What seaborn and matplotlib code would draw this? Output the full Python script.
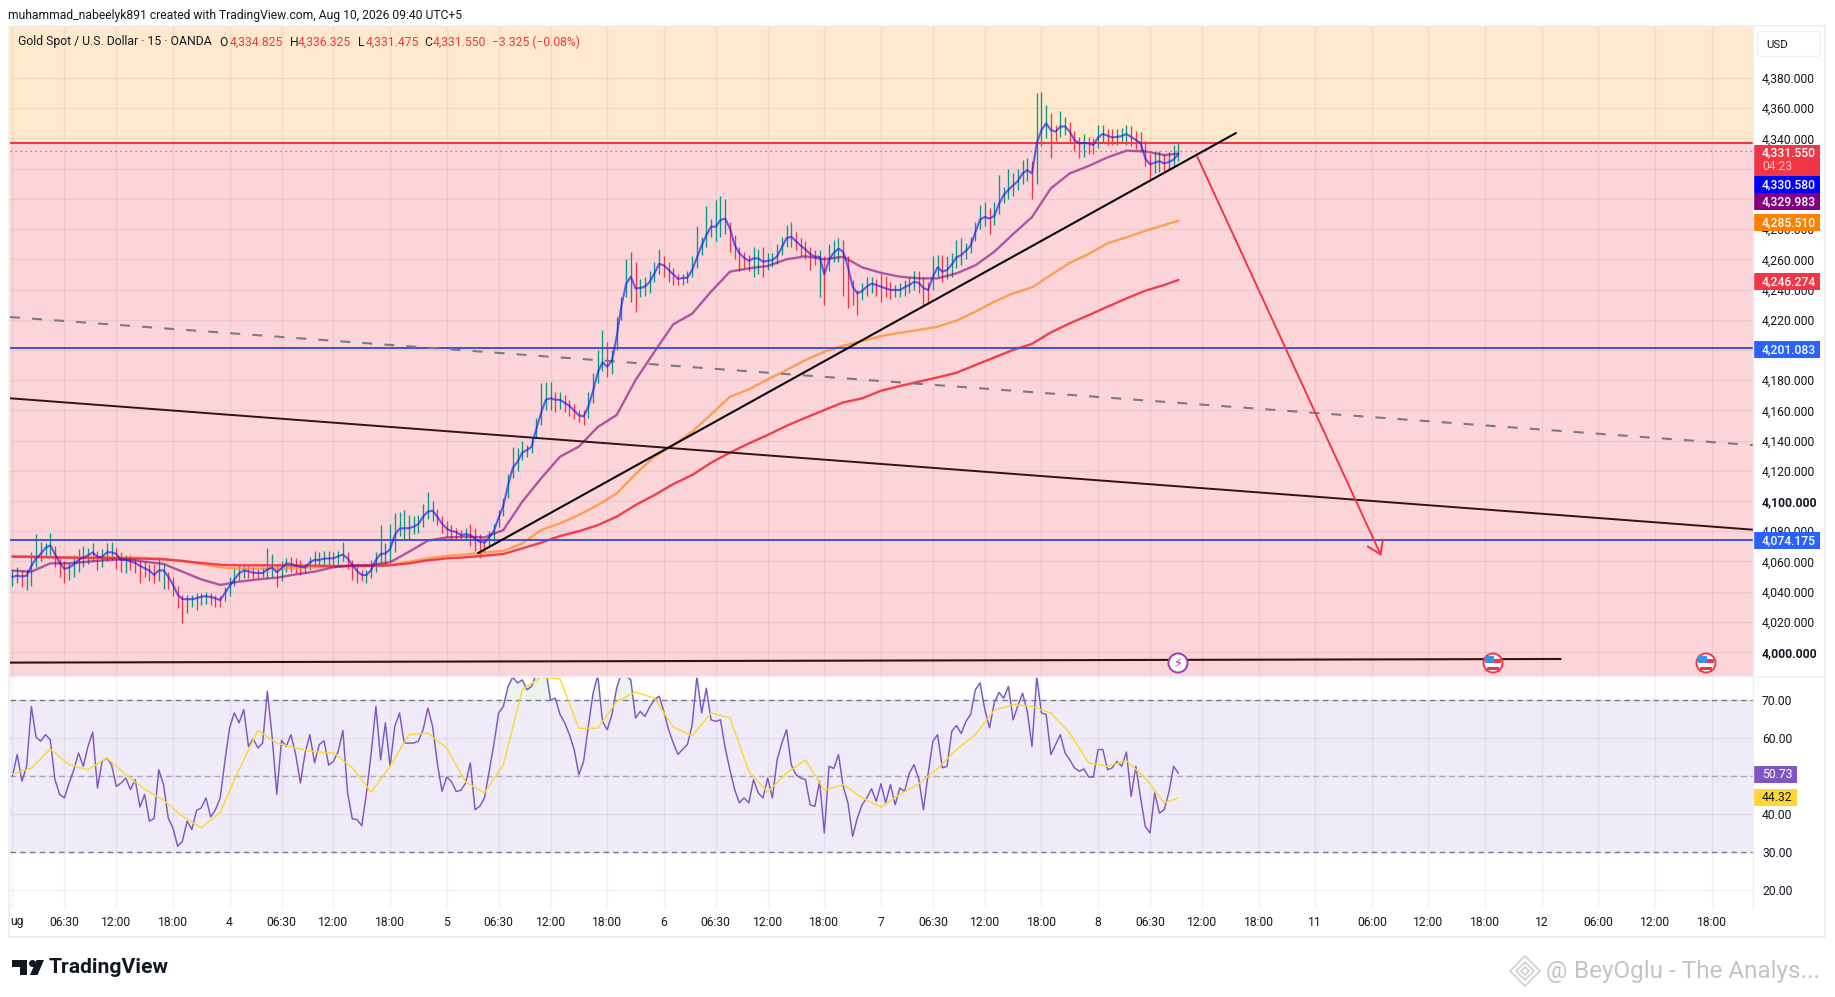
# plot.py
# Gold Spot / U.S. Dollar 15 min chart with RSI pane, TradingView look.

import numpy as np
import seaborn as sns
import matplotlib.pyplot as plt
from matplotlib.patches import Rectangle, Circle, Polygon, FancyBboxPatch

W, H = 1835, 997

# price, one entry for every second bar
bar_close = [4049.7, 4050.6, 4050, 4050.6, 4057, 4062, 4065, 4069, 4070.6, 4065,
             4059, 4055, 4056, 4058, 4061, 4062.5, 4064, 4066, 4063, 4063,
             4066, 4066, 4065, 4061, 4061, 4060, 4059, 4057, 4055.5, 4054,
             4051, 4054, 4054, 4050, 4044.6, 4038, 4035, 4035, 4035, 4035.6,
             4036.6, 4037, 4036.4, 4035.5, 4034.4, 4039, 4043.7, 4048, 4052, 4054,
             4053.4, 4052.5, 4052.3, 4052.3, 4054.7, 4056, 4052.8, 4055.4, 4058.7, 4058.3,
             4057.4, 4056.5, 4056, 4059.4, 4061, 4061, 4061.8, 4062, 4062, 4063.4,
             4064.5, 4062, 4057.6, 4053.6, 4051, 4051, 4054.3, 4061, 4065, 4065.3,
             4068, 4077.5, 4081.7, 4082, 4082, 4083, 4084.8, 4089.6, 4093, 4093.6,
             4089.6, 4085, 4081.7, 4080, 4079.5, 4077.5, 4078, 4077.5, 4075, 4073,
             4072.4, 4076, 4080.3, 4089, 4097, 4110.5, 4122, 4126, 4132, 4133.7,
             4136, 4148, 4158.5, 4167, 4168, 4167, 4167, 4165, 4163, 4159.8,
             4156.7, 4156, 4162.4, 4173, 4185, 4191.8, 4189, 4192.7, 4208.8, 4229,
             4243.6, 4248.5, 4240.8, 4241, 4242, 4245, 4250.7, 4257, 4256, 4253,
             4250, 4247, 4247.6, 4247.8, 4253, 4261, 4269, 4276, 4281.6, 4281.6,
             4286, 4287, 4280.5, 4269.5, 4264, 4261, 4259, 4260.6, 4260.6, 4258.4,
             4259, 4259.5, 4262, 4268, 4274, 4275, 4272, 4269, 4266.6, 4263.5,
             4261.7, 4261.7, 4250, 4259.5, 4264.4, 4267, 4265, 4255, 4241.9, 4237.5,
             4239, 4242, 4244, 4243, 4241.9, 4240.8, 4239.7, 4239.7, 4239.7, 4241.4,
             4243, 4245, 4244.5, 4241, 4239.7, 4248.5, 4254.7, 4251.8, 4253, 4256.6,
             4261.3, 4262.8, 4265.7, 4269, 4278, 4286.4, 4288, 4287, 4288.7, 4296.6,
             4302.6, 4306, 4309, 4311.8, 4316.9, 4319, 4316.9, 4336.8, 4345.6, 4350,
             4345.6, 4344.5, 4347.8, 4348, 4344.5, 4339, 4336.8, 4337, 4336.8, 4335.7,
             4340.7, 4343, 4341.8, 4340.7, 4341, 4341.6, 4343, 4341, 4339, 4337,
             4326.8, 4322.9, 4324, 4325, 4323.5, 4324.4, 4326, 4329.7]

bar_high = [4054, 4056, 4054, 4054, 4066, 4078, 4073, 4072, 4079, 4070,
            4063, 4060, 4059, 4064, 4068, 4070, 4069, 4072, 4067, 4068,
            4072, 4073, 4069, 4066, 4064, 4064, 4062, 4060, 4060, 4058,
            4058, 4063, 4058, 4053, 4050, 4044, 4038, 4038, 4038, 4039,
            4039, 4040, 4039, 4038, 4037, 4043, 4050, 4055, 4057, 4057,
            4057, 4056, 4055, 4056, 4069, 4065, 4058, 4060, 4062, 4063,
            4062, 4061, 4058, 4063, 4067, 4066, 4067, 4067, 4066, 4067,
            4073, 4066, 4061, 4058, 4054, 4054, 4061, 4066, 4084, 4072,
            4085, 4092, 4093, 4094, 4091, 4090, 4091, 4098, 4106, 4100,
            4095, 4090, 4087, 4084, 4082, 4081, 4082, 4085, 4082, 4078,
            4075, 4080, 4085, 4094, 4102, 4118, 4136, 4135, 4140, 4137,
            4142, 4155, 4178, 4179, 4179, 4172, 4172, 4170, 4167, 4164,
            4160, 4160, 4172, 4185, 4200, 4213, 4205, 4200, 4222, 4235,
            4260, 4265, 4258, 4247, 4248, 4252, 4258, 4267, 4262, 4258,
            4254, 4250, 4250, 4252, 4262, 4282, 4275, 4295, 4287, 4299,
            4302, 4300, 4285, 4276, 4268, 4265, 4263, 4268, 4267, 4268,
            4264, 4264, 4270, 4275, 4283, 4285, 4278, 4274, 4272, 4268,
            4266, 4266, 4262, 4270, 4273, 4274, 4273, 4262, 4246, 4240,
            4244, 4248, 4248, 4247, 4250, 4249, 4245, 4243, 4244, 4246,
            4248, 4252, 4252, 4248, 4245, 4262, 4263, 4263, 4262, 4264,
            4273, 4274, 4271, 4275, 4285, 4296, 4298, 4294, 4298, 4316,
            4308, 4320, 4317, 4320, 4326, 4327, 4325, 4370, 4371, 4362,
            4357, 4349, 4358, 4354, 4351, 4345, 4341, 4343, 4341, 4340,
            4349, 4349, 4346, 4346, 4346, 4347, 4349, 4348, 4345, 4344,
            4338, 4330, 4331, 4332, 4330, 4331, 4336, 4337]

bar_low = [4044, 4046, 4043, 4041, 4044, 4056, 4060, 4063, 4064, 4056,
           4050, 4046, 4048, 4050, 4053, 4056, 4058, 4060, 4054, 4056,
           4060, 4061, 4055, 4053, 4052, 4054, 4052, 4046, 4050, 4047,
           4046, 4047, 4042, 4042, 4037, 4029, 4019, 4026, 4030, 4028,
           4031, 4032, 4031, 4030, 4030, 4034, 4037, 4044, 4048, 4049,
           4049, 4049, 4049, 4050, 4049, 4050, 4043, 4047, 4053, 4053,
           4052, 4051, 4052, 4054, 4056, 4056, 4056, 4057, 4057, 4058,
           4060, 4055, 4048, 4046, 4047, 4046, 4049, 4053, 4059, 4058,
           4060, 4066, 4077, 4075, 4075, 4078, 4079, 4083, 4088, 4087,
           4084, 4079, 4076, 4075, 4075, 4074, 4075, 4070, 4067, 4062,
           4066, 4070, 4073, 4083, 4090, 4102, 4115, 4120, 4127, 4129,
           4132, 4142, 4150, 4160, 4160, 4159, 4161, 4159, 4156, 4154,
           4152, 4150, 4155, 4165, 4178, 4186, 4182, 4184, 4200, 4220,
           4235, 4232, 4225, 4235, 4236, 4238, 4245, 4250, 4248, 4245,
           4243, 4243, 4243, 4244, 4248, 4254, 4263, 4268, 4275, 4272,
           4275, 4277, 4265, 4260, 4252, 4254, 4252, 4248, 4250, 4248,
           4253, 4255, 4257, 4263, 4268, 4268, 4266, 4262, 4260, 4253,
           4256, 4235, 4230, 4252, 4258, 4258, 4236, 4228, 4230, 4223,
           4233, 4236, 4238, 4236, 4232, 4235, 4234, 4235, 4235, 4236,
           4238, 4240, 4238, 4229, 4231, 4240, 4248, 4245, 4247, 4248,
           4254, 4256, 4260, 4264, 4272, 4280, 4282, 4277, 4283, 4290,
           4297, 4300, 4302, 4306, 4310, 4312, 4300, 4310, 4335, 4340,
           4327, 4338, 4341, 4342, 4337, 4332, 4327, 4328, 4330, 4330,
           4334, 4337, 4336, 4336, 4336, 4337, 4336, 4335, 4333, 4331,
           4322, 4313, 4317, 4318, 4318, 4319, 4321, 4325]

# moving averages, one entry for every eighth bar plus the last one
ema_purple = [4053.9, 4053.2, 4058.7, 4058.7, 4059.8, 4060.9, 4061.4, 4059.8, 4058.3, 4053.2,
              4048.1, 4044.4, 4046.6, 4048.1, 4049.2, 4051.4, 4053.2, 4056.1, 4057.4, 4057.6,
              4059.4, 4066.4, 4073.7, 4075.9, 4076.4, 4075.9, 4080.8, 4099.5, 4115, 4129.3,
              4136, 4149, 4156.9, 4180, 4198.8, 4217, 4224, 4238.6, 4251.8, 4254,
              4255.6, 4260, 4262, 4260, 4261.7, 4254.7, 4251, 4248.5, 4247.4, 4247.4,
              4250.7, 4256, 4265, 4276.7, 4288, 4307, 4316.9, 4321.8, 4327.5, 4331.9,
              4331.5, 4329, 4330]
ema_orange = [4063.6, 4063.4, 4063.1, 4062.7, 4062.7, 4062.7, 4062.5, 4062.3, 4061.6, 4060.3,
              4058.3, 4056.1, 4055.2, 4055.2, 4055.2, 4055.6, 4056.1, 4056.5, 4056.7, 4057,
              4057.6, 4059.8, 4062, 4063.6, 4064.7, 4065.8, 4066.9, 4071.9, 4080.8, 4085.2,
              4090.7, 4097.3, 4105, 4117.8, 4129.3, 4137, 4145.9, 4157.3, 4169, 4173.9,
              4180.5, 4186.7, 4193.3, 4198.8, 4202.8, 4205.9, 4209.2, 4211.4, 4213.2, 4215.4,
              4219.4, 4225.3, 4231.9, 4237.5, 4241.4, 4249.6, 4257.7, 4263.5, 4270.6, 4274.5,
              4278.9, 4282.7, 4285.5]
ema_red = [4063.1, 4062.9, 4062.7, 4062.5, 4062.3, 4062.3, 4062, 4061.8, 4061.4, 4060.3,
           4058.9, 4057.8, 4057.4, 4057.4, 4057.4, 4057.2, 4057.2, 4057, 4057, 4057,
           4057.4, 4058.7, 4060.7, 4062, 4062.7, 4063.8, 4064.9, 4068.6, 4072.4, 4076.8,
           4080, 4084, 4089.6, 4097.3, 4103.9, 4111.2, 4117.2, 4125.3, 4132, 4138.1,
           4143.7, 4149.8, 4155.1, 4160.2, 4165.3, 4167.9, 4173, 4176.1, 4179, 4181.8,
           4184.9, 4190, 4195, 4200, 4204, 4211.6, 4217.6, 4223, 4228.6, 4234.1,
           4239.2, 4243, 4246.3]

# RSI pane, same bars as the price
rsi_line = [50, 55.7, 48.7, 52.6, 68.3, 60.2, 59.2, 60.9, 59.6, 49.1,
            45.2, 44.3, 48.2, 51.7, 56.1, 52.6, 57.8, 61.6, 46.9, 53.9,
            54.8, 53, 47.3, 48.2, 49.5, 46.5, 49.1, 41.9, 45.2, 38.2,
            38.9, 51.7, 47.8, 39, 36.4, 31.6, 32.9, 38.2, 36, 41,
            41.7, 44.3, 39.3, 41.2, 44.3, 53.9, 62.7, 66.6, 64, 67.5,
            57.8, 59.8, 57.4, 58.7, 72.3, 60.5, 45.3, 59.4, 57.8, 60.9,
            55.7, 48.2, 56.1, 60.9, 53.5, 58.3, 59.3, 52.9, 53.9, 56.5,
            62, 45.6, 38.8, 38.6, 37, 45.6, 56.1, 68.3, 54.3, 64,
            52.6, 63.1, 66.6, 58.7, 58.7, 58.7, 59.2, 62.2, 67.9, 63.1,
            53.5, 46, 49.8, 48.6, 46, 46.3, 48.2, 53.5, 41.2, 42.1,
            44.3, 51.3, 58.5, 66.6, 68.3, 73.6, 76, 74.5, 75.3, 72.7,
            73.6, 77, 79, 78, 69.9, 70.5, 66.2, 64, 60.9, 57,
            50.4, 53.9, 63.1, 71.7, 76.6, 64.4, 62.2, 66.2, 73.1, 77,
            76.2, 75.3, 65.3, 67, 65.7, 68.2, 70.1, 71, 67, 62.2,
            58.7, 55.7, 57.1, 58.3, 63.5, 76.2, 66.6, 73.1, 64.8, 64.4,
            64.8, 57.4, 51.7, 46.5, 43, 44.3, 43, 49.1, 45.6, 44.3,
            49.5, 44.3, 54.3, 58.7, 62.2, 53, 50.4, 49.5, 49.1, 42.5,
            42.1, 48.7, 35.1, 52.6, 52, 55.7, 47.3, 43, 34.2, 39,
            42.5, 44.3, 46.7, 43.4, 48, 43, 47.8, 42.5, 46.9, 46,
            50.8, 53, 49.3, 41.2, 50.7, 59.2, 60.9, 52.2, 52.6, 61.8,
            63.3, 61.2, 64.4, 66.2, 72.7, 74.5, 67.5, 62.7, 69.2, 72,
            70.5, 73.6, 64.8, 68.5, 71.8, 67, 57.8, 76.2, 66.6, 66.2,
            55.7, 58.3, 60.9, 56.1, 54.3, 52.2, 51.3, 51.9, 49.8, 49.8,
            57, 57, 51.7, 52.2, 53.9, 52.6, 56.3, 44.7, 52.6, 44.3,
            36.8, 35.1, 45.6, 40.3, 41.2, 45.8, 52.6, 50.8]
rsi_avg = [50.6, 52.1, 57.1, 53, 51.7, 54.8, 50.4, 46.6, 43.7, 39.5,
           36.4, 40.5, 51.7, 62, 58.7, 57.4, 56.4, 56.1, 52.2, 45.8,
           52.6, 60.9, 61.3, 57.4, 48.5, 45.6, 53, 72.7, 76, 75.5,
           62.6, 62.6, 69.6, 72.1, 70.5, 62.9, 60.6, 66.6, 65.3, 51.3,
           45.8, 50.8, 54.3, 46.3, 47.8, 44.3, 41.9, 45.2, 48, 52,
           57, 60.9, 67.3, 68.8, 68.3, 66.6, 61.3, 53.5, 52.6, 54.1,
           49.5, 43, 44.3]

# drawn lines: [x in bars], [price]
trend_x, trend_y = [105.3, 426.4], [4065.5, 4343.6]
gray_x, gray_y = [-93.05, 645.5], [4221.8, 4137]
brown_x, brown_y = [-93.05, 645.5], [4168, 4081]
floor_x, floor_y = [-93.05, 564], [3993, 3995.4]
arrow_x, arrow_y = [410, 488], [4328, 4063.6]

level_red = 4337.2
level_blue = [4201.083, 4074.175]
last_price = 4331.55

price_ticks = list(range(4000, 4381, 20))
rsi_ticks = [20, 30, 40, 50, 60, 70]
time_ticks = [-92, -70, -48, -24, 0, 22, 44, 68, 92, 114, 136, 160, 184, 206, 228, 252,
              276, 298, 320, 344, 368, 390, 412, 436, 460, 484, 508, 532, 556, 580, 604, 628]
time_labels = ['', '06:30', '12:00', '18:00', '4', '06:30', '12:00', '18:00', '5', '06:30', '12:00',
               '18:00', '6', '06:30', '12:00', '18:00', '7', '06:30', '12:00', '18:00', '8', '06:30',
               '12:00', '18:00', '11', '06:00', '12:00', '18:00', '12', '06:00', '12:00', '18:00']

sns.set_theme(style='white')
plt.rcParams['font.family'] = ['Roboto', 'DejaVu Sans']

fig = plt.figure(figsize=(W / 100, H / 100), dpi=100, facecolor='white')


def pane(left, top, right, bottom):
    return fig.add_axes([left / W, 1 - bottom / H, (right - left) / W, (bottom - top) / H])


ax = pane(10, 27, 1753, 676.5)
ax_rsi = pane(10, 677, 1753, 908)
ov = fig.add_axes([0, 0, 1, 1], zorder=5)
ov.set_xlim(0, W)
ov.set_ylim(H, 0)
ov.axis('off')

xlim = (-93.05, 645.5)
bars = -92 + 2 * np.arange(len(bar_close))
ma_bars = np.append(bars[::4], bars[-1])
close = np.array(bar_close)

# price pane
ax.set_xlim(*xlim)
ax.set_ylim(3983.8, 4413.8)
ax.axhspan(4337.2, 4413.8, color='#FEE9CD', lw=0, zorder=0)
ax.axhspan(3983.8, 4337.2, color='#FBD5D9', lw=0, zorder=0)
ax.set_yticks(price_ticks)
ax.set_yticklabels([f'{p:,.3f}' for p in price_ticks])
ax.set_xticks(time_ticks)
ax.set_xticklabels([])
ax.grid(True, color='black', alpha=0.055, lw=1)
ax.set_axisbelow(True)
ax.yaxis.tick_right()
ax.tick_params(axis='y', length=0, pad=6.5, labelsize=8.7, labelcolor='#131722')
ax.tick_params(axis='x', length=0)
for t, p in zip(ax.get_yticklabels(), price_ticks):
    if p in (4000, 4100):
        t.set_fontweight('bold')
sns.despine(ax=ax, left=True, bottom=True, right=True, top=True)

# bars
prev = np.append(close[0], close[:-1])
bar_cols = np.where(close >= prev, '#089981', '#F23645')
ax.vlines(bars, bar_low, bar_high, colors=bar_cols, lw=0.95, zorder=2)

# averages and the blue line through the closes
sns.lineplot(x=ma_bars, y=ema_orange, ax=ax, color='#FF8A1E', lw=1.7, alpha=0.72, zorder=3)
sns.lineplot(x=ma_bars, y=ema_red, ax=ax, color='#F23645', lw=1.7, alpha=0.95, zorder=3)
sns.lineplot(x=ma_bars, y=ema_purple, ax=ax, color='#800080', lw=1.7, alpha=0.6, zorder=3)
sns.lineplot(x=bars, y=bar_close, ax=ax, color='#1A1AF5', lw=1.5, alpha=0.65, zorder=4)

# levels and drawings
ax.axhline(level_red, color='#F23645', lw=1.5, zorder=3)
ax.axhline(last_price, color='#F23645', lw=0.9, ls=(0, (1, 3)), zorder=3)
for lv in level_blue:
    ax.axhline(lv, color='#3F51D8', lw=1.4, zorder=3)
sns.lineplot(x=gray_x, y=gray_y, ax=ax, color='#787B86', lw=1.5, linestyle=(0, (4.8, 5.8)), zorder=3)
sns.lineplot(x=brown_x, y=brown_y, ax=ax, color='#2E1414', lw=1.4, zorder=3)
sns.lineplot(x=floor_x, y=floor_y, ax=ax, color='#2E1414', lw=1.5, zorder=3)
sns.lineplot(x=trend_x, y=trend_y, ax=ax, color='#0A0A0A', lw=1.5, zorder=5)
ax.annotate('', xy=(arrow_x[1], arrow_y[1]), xytext=(arrow_x[0], arrow_y[0]), zorder=5,
            arrowprops=dict(arrowstyle='->,head_length=0.75,head_width=0.5', color='#F23645',
                            lw=1.4, shrinkA=0, shrinkB=0))
ax.set(xlabel='', ylabel='')

# RSI pane
ax_rsi.set_xlim(*xlim)
ax_rsi.set_ylim(15.4, 76.04)
ax_rsi.axhspan(30, 70, color='#EFEBF8', lw=0, zorder=0)
ax_rsi.set_yticks(rsi_ticks)
ax_rsi.set_yticklabels([f'{r:.2f}' for r in rsi_ticks])
ax_rsi.set_xticks(time_ticks)
ax_rsi.set_xticklabels(time_labels)
ax_rsi.grid(True, color='black', alpha=0.05, lw=1)
ax_rsi.set_axisbelow(True)
ax_rsi.yaxis.tick_right()
ax_rsi.tick_params(axis='y', length=0, pad=6.5, labelsize=8.7, labelcolor='#131722')
ax_rsi.tick_params(axis='x', length=0, pad=5.5, labelsize=8.7, labelcolor='#131722')
sns.despine(ax=ax_rsi, left=True, bottom=True, right=True, top=True)
rsi_arr = np.array(rsi_line)
ax_rsi.fill_between(bars, 70, rsi_arr, where=rsi_arr > 70, interpolate=True, color='#CFE8D6', alpha=0.45, lw=0)
for lv, col in ((70, '#787B86'), (30, '#787B86'), (50, '#A8A8B0')):
    ax_rsi.axhline(lv, color=col, lw=1, ls=(0, (4, 3)), zorder=2)
sns.lineplot(x=bars, y=rsi_line, ax=ax_rsi, color='#7E57C2', lw=1.05, zorder=3)
sns.lineplot(x=ma_bars, y=rsi_avg, ax=ax_rsi, color='#FDD835', lw=1.05, zorder=4)
ax_rsi.set(xlabel='', ylabel='')

# frame lines of the panes
frame = '#EEF0F4'
ov.add_patch(Rectangle((9, 26), 1816, 911, fill=False, ec=frame, lw=1.4))
ov.plot([10, 1825], [676.8, 676.8], color=frame, lw=1.2)
ov.plot([1753, 1753], [27, 908], color=frame, lw=1)

# header and legend
ov.text(8, 15, 'muhammad_nabeelyk891 created with TradingView.com, Aug 10, 2026 09:40 UTC+5',
        fontsize=8.7, color='#131722', va='center')
ov.text(18, 42, 'Gold Spot / U.S. Dollar · 15 · OANDA', fontsize=8.8, color='#131722', va='center')
legend_parts = [(219, 'O', '#131722'), (230, '4,334.825', '#F23645'), (290, 'H', '#131722'),
                (298, '4,336.325', '#F23645'), (358, 'L', '#131722'), (366, '4,331.475', '#F23645'),
                (424, 'C', '#131722'), (433, '4,331.550', '#F23645'), (492, '−3.325 (−0.08%)', '#F23645')]
for lx, txt, col in legend_parts:
    ov.text(lx, 42, txt, fontsize=8.7, color=col, va='center')

# currency box
ov.add_patch(FancyBboxPatch((1759, 33), 60, 22, boxstyle='round,pad=1.5,rounding_size=4',
                            fc='white', ec='#EEF0F4', lw=1))
ov.text(1766, 44.5, 'USD', fontsize=8.2, color='#131722', va='center')

# price tags
ov.add_patch(Rectangle((1754, 145), 66, 31, color='#F23645', lw=0))
ov.text(1762, 153, '4,331.550', fontsize=8.7, color='white', va='center', fontweight='medium')
ov.text(1762, 167, '04:23', fontsize=8.7, color='#FFC0C6', va='center')
tag_tops = [176, 193, 214, 273, 341, 532]
tag_texts = ['4,330.580', '4,329.983', '4,285.510', '4,246.274', '4,201.083', '4,074.175']
tag_cols = ['#0000FF', '#800080', '#FF8000', '#F23645', '#2962FF', '#2962FF']
for top, txt, col in zip(tag_tops, tag_texts, tag_cols):
    ov.add_patch(Rectangle((1754, top), 66, 17, color=col, lw=0))
    ov.text(1762, top + 8.5, txt, fontsize=8.7, color='white', va='center', fontweight='medium')
ov.add_patch(Rectangle((1754, 766), 43, 17, color='#7E57C2', lw=0))
ov.text(1762, 774.5, '50.73', fontsize=8.7, color='white', va='center')
ov.add_patch(Rectangle((1754, 789), 43, 17, color='#FDD835', lw=0))
ov.text(1762, 797.5, '44.32', fontsize=8.7, color='#131722', va='center')

# clipped month label at the left edge
ov.text(10, 921.5, 'ug', fontsize=8.7, color='#131722', va='center')

# event markers on the price pane
ov.add_patch(Circle((1178, 663), 9.5, fc='white', ec='#9C3FA8', lw=1.4))
ov.text(1178, 663, '⚡', fontsize=9, color='#9C27B0', ha='center', va='center', family='DejaVu Sans')
for ex in (1493, 1706):
    ov.add_patch(Circle((ex, 663), 9.5, fc='white', ec='#F23645', lw=1.4))
    ov.add_patch(Rectangle((ex - 8, 656), 8.5, 7, color='#3D8FE8', lw=0))
    ov.add_patch(Rectangle((ex + 0.5, 659), 7.5, 4, color='#F23645', lw=0))
    ov.add_patch(Rectangle((ex - 6, 667), 12, 3, color='#F23645', lw=0))

# TradingView logo
ov.add_patch(Polygon([(12, 960), (27, 960), (27, 975), (20, 975), (20, 967), (12, 967)], color='#131722', lw=0))
ov.add_patch(Circle((32.5, 963.5), 3.5, color='#131722', lw=0))
ov.add_patch(Polygon([(30, 975), (37.5, 975), (44, 960), (36.5, 960)], color='#131722', lw=0))
ov.text(49, 967.5, 'TradingView', fontsize=15.2, color='#131722', va='center', fontweight='bold')

# watermark
for size, lw in ((15, 1.3), (9, 1.3), (4, 1.3)):
    ov.add_patch(Polygon([(1525 - size, 971), (1525, 971 - size), (1525 + size, 971), (1525, 971 + size)],
                         fill=False, ec='#D2D2D2', lw=lw))
ov.text(1546, 971, '@', fontsize=17, color='#C4C4C4', va='center')
ov.text(1574, 971, 'BeyOglu - The Analys...', fontsize=17.5, color='#C4C4C4', va='center')

fig.savefig('out.png', dpi=100, facecolor='white')
